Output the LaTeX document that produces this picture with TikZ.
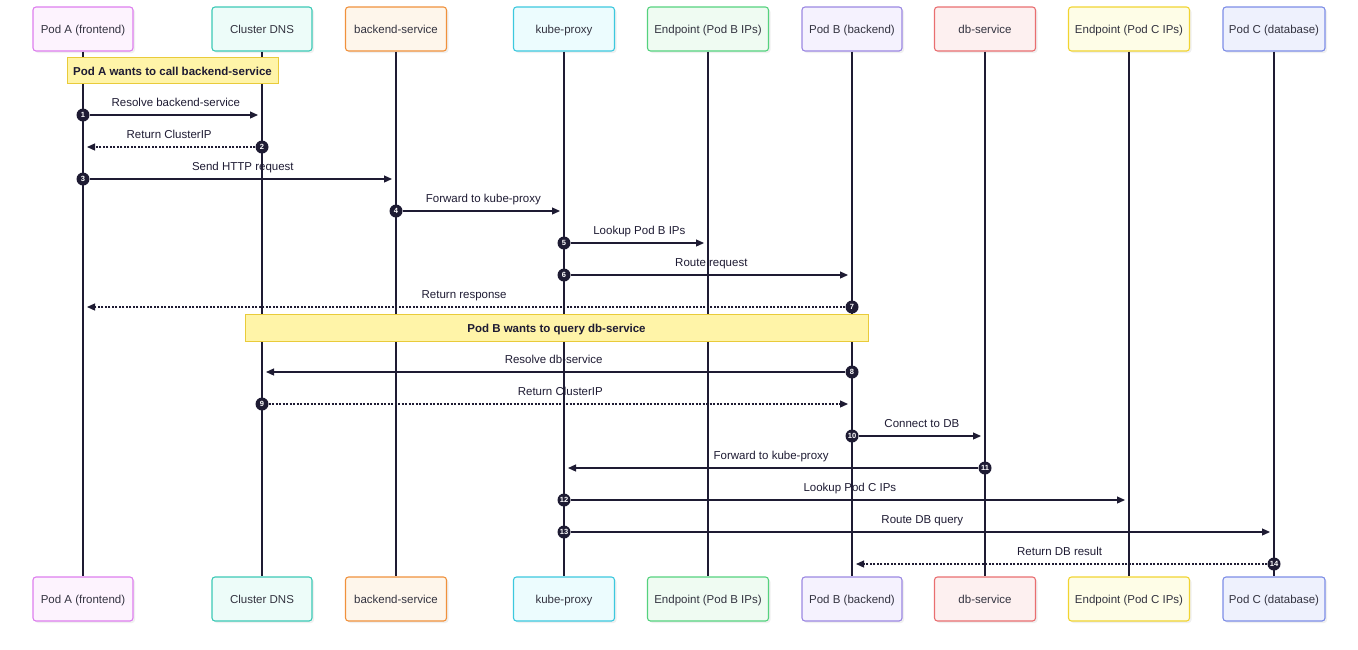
\documentclass[tikz,border=0pt]{standalone}
\usepackage{fontspec}
\setmainfont{Liberation Sans}
\usetikzlibrary{arrows.meta,shadows}

\definecolor{ink}{HTML}{1E1B33}
\definecolor{boxtext}{HTML}{333340}
\definecolor{podAline}{HTML}{DD7EEE}\definecolor{podAfill}{HTML}{FDF3FE}
\definecolor{dnsline}{HTML}{3CC9B6}\definecolor{dnsfill}{HTML}{EDFCF9}
\definecolor{besline}{HTML}{F0913C}\definecolor{besfill}{HTML}{FEF6EB}
\definecolor{kpline}{HTML}{3CC8DE}\definecolor{kpfill}{HTML}{ECFCFE}
\definecolor{epBline}{HTML}{55D27E}\definecolor{epBfill}{HTML}{EFFBF2}
\definecolor{podBline}{HTML}{9B88E2}\definecolor{podBfill}{HTML}{F5F2FE}
\definecolor{dbline}{HTML}{E96E70}\definecolor{dbfill}{HTML}{FDF0F0}
\definecolor{epCline}{HTML}{F1D431}\definecolor{epCfill}{HTML}{FEFDE7}
\definecolor{podCline}{HTML}{7D8DE6}\definecolor{podCfill}{HTML}{EEF1FD}
\definecolor{notefill}{HTML}{FFF4A8}\definecolor{noteline}{HTML}{E9CB3A}

\begin{document}
\begin{tikzpicture}[x=1pt, y=-1pt, font=\fontsize{11.5}{13}\selectfont,
    actor/.style={draw, rounded corners=3pt, line width=1.1pt, minimum width=100pt,
        minimum height=44pt, inner xsep=2pt, text=boxtext, text height=9.5pt, text depth=1.5pt,
        drop shadow={opacity=0.12, shadow xshift=2pt, shadow yshift=-2pt}},
    note/.style={draw=noteline, fill=notefill, line width=1pt, inner sep=0pt,
        text height=10.5pt, text depth=0.5pt,
        font=\fontsize{11.5}{13}\selectfont\bfseries, text=ink},
    life/.style={ink, line width=1.25pt},
    msg/.style={ink, line width=1.2pt, -{Triangle[length=8pt,width=7pt]}, shorten >=4pt},
    reply/.style={msg, dash pattern=on 2pt off 1.5pt},
    num/.style={circle, fill=ink, text=white, inner sep=0pt, minimum size=13pt,
        font=\fontsize{7.5}{7.5}\selectfont\bfseries},
    lbl/.style={above=2pt, text=ink, text height=8.5pt, text depth=2.5pt}]
    \useasboundingbox (0,0) rectangle (1358,649);

    \node[actor, draw=podAline, fill=podAfill] (podA) at (83,29) {Pod A (frontend)};
    \node[actor, draw=dnsline, fill=dnsfill] (dns) at (262,29) {Cluster DNS};
    \node[actor, draw=besline, fill=besfill, minimum width=101pt] (bes) at (396,29) {backend-service};
    \node[actor, draw=kpline, fill=kpfill, minimum width=101pt] (kp) at (564,29) {kube-proxy};
    \node[actor, draw=epBline, fill=epBfill, minimum width=121pt] (epB) at (708,29) {Endpoint (Pod B IPs)};
    \node[actor, draw=podBline, fill=podBfill] (podB) at (852,29) {Pod B (backend)};
    \node[actor, draw=dbline, fill=dbfill, minimum width=101pt] (db) at (985,29) {db-service};
    \node[actor, draw=epCline, fill=epCfill, minimum width=121pt] (epC) at (1129,29) {Endpoint (Pod C IPs)};
    \node[actor, draw=podCline, fill=podCfill, minimum width=102pt] (podC) at (1274,29) {Pod C (database)};

    \node[actor, draw=podAline, fill=podAfill] (podAb) at (83,599) {Pod A (frontend)};
    \node[actor, draw=dnsline, fill=dnsfill] (dnsb) at (262,599) {Cluster DNS};
    \node[actor, draw=besline, fill=besfill, minimum width=101pt] (besb) at (396,599) {backend-service};
    \node[actor, draw=kpline, fill=kpfill, minimum width=101pt] (kpb) at (564,599) {kube-proxy};
    \node[actor, draw=epBline, fill=epBfill, minimum width=121pt] (epBb) at (708,599) {Endpoint (Pod B IPs)};
    \node[actor, draw=podBline, fill=podBfill] (podBb) at (852,599) {Pod B (backend)};
    \node[actor, draw=dbline, fill=dbfill, minimum width=101pt] (dbb) at (985,599) {db-service};
    \node[actor, draw=epCline, fill=epCfill, minimum width=121pt] (epCb) at (1129,599) {Endpoint (Pod C IPs)};
    \node[actor, draw=podCline, fill=podCfill, minimum width=102pt] (podCb) at (1274,599) {Pod C (database)};

    \draw[life] (podA) -- (podAb);
    \draw[life] (dns) -- (dnsb);
    \draw[life] (bes) -- (besb);
    \draw[life] (kp) -- (kpb);
    \draw[life] (epB) -- (epBb);
    \draw[life] (podB) -- (podBb);
    \draw[life] (db) -- (dbb);
    \draw[life] (epC) -- (epCb);
    \draw[life] (podC) -- (podCb);

    \node[note, minimum width=211pt, minimum height=26pt] (noteA) at (172.5,70) {Pod A wants to call backend-service};
    \node[note, minimum width=623pt, minimum height=27pt] (noteB) at (556.5,327.5) {Pod B wants to query db-service};

    \node[num] (n1) at (83,115) {1};
    \draw[msg] (n1) -- node[lbl] {Resolve backend-service} (n1 -| dns);
    \node[num] (n2) at (262,147) {2};
    \draw[reply] (n2) -- node[lbl] {Return ClusterIP} (n2 -| podA);
    \node[num] (n3) at (83,179) {3};
    \draw[msg] (n3) -- node[lbl] {Send HTTP request} (n3 -| bes);
    \node[num] (n4) at (396,211) {4};
    \draw[msg] (n4) -- node[lbl] {Forward to kube-proxy} (n4 -| kp);
    \node[num] (n5) at (564,243) {5};
    \draw[msg] (n5) -- node[lbl] {Lookup Pod B IPs} (n5 -| epB);
    \node[num] (n6) at (564,275) {6};
    \draw[msg] (n6) -- node[lbl] {Route request} (n6 -| podB);
    \node[num] (n7) at (852,307) {7};
    \draw[reply] (n7) -- node[lbl] {Return response} (n7 -| podA);

    \node[num] (n8) at (852,372) {8};
    \draw[msg] (n8) -- node[lbl] {Resolve db-service} (n8 -| dns);
    \node[num] (n9) at (262,404) {9};
    \draw[reply] (n9) -- node[lbl] {Return ClusterIP} (n9 -| podB);
    \node[num] (n10) at (852,436) {10};
    \draw[msg] (n10) -- node[lbl] {Connect to DB} (n10 -| db);
    \node[num] (n11) at (985,468) {11};
    \draw[msg] (n11) -- node[lbl] {Forward to kube-proxy} (n11 -| kp);
    \node[num] (n12) at (564,500) {12};
    \draw[msg] (n12) -- node[lbl] {Lookup Pod C IPs} (n12 -| epC);
    \node[num] (n13) at (564,532) {13};
    \draw[msg] (n13) -- node[lbl] {Route DB query} (n13 -| podC);
    \node[num] (n14) at (1274,564) {14};
    \draw[reply] (n14) -- node[lbl] {Return DB result} (n14 -| podB);
\end{tikzpicture}
\end{document}
